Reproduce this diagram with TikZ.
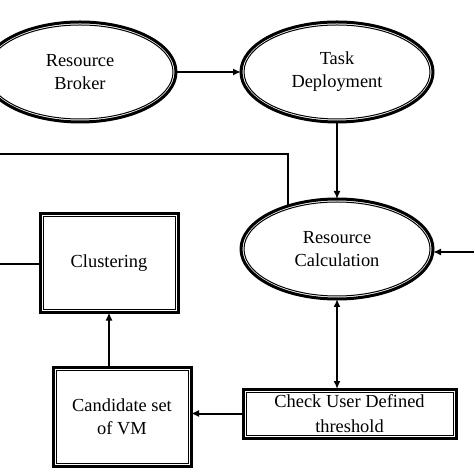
\documentclass[tikz,border=0pt]{standalone}
\usepackage{fontspec}
\setmainfont{Liberation Serif}
\usetikzlibrary{arrows.meta, positioning, shapes.geometric}

\begin{document}
\begin{tikzpicture}[
			x=0.5pt, y=-0.5pt,
			every node/.style={font=\fontsize{9.2}{11.5}\selectfont},
			oval/.style={ellipse, draw, line width=1.5pt, outer sep=0pt, align=center, minimum width=96pt, minimum height=50pt},
			box/.style={rectangle, draw, line width=1.5pt, outer sep=0pt, align=center, minimum width=69pt, minimum height=49.5pt},
			inner/.style={line width=0.5pt},
			arrow/.style={-{Latex[length=4pt,width=3.5pt]}, line width=1pt},
			link/.style={line width=1pt}
			]
			\useasboundingbox (0,0) rectangle (474,474);

			\node[oval] (broker) at (80,72) {Resource\\Broker};
			\node[oval, right=32.5pt of broker] (deploy) {Task\\Deployment};
			\node[oval, below=38.5pt of deploy] (calc) {Resource\\Calculation};
			\node[box, below=45pt of calc, xshift=6.25pt, minimum width=106.5pt, minimum height=24.5pt, inner ysep=1pt, font=\fontsize{9.2}{12.5}\selectfont] (check) {Check User Defined\\threshold};
			\node[box, left=26pt of check, yshift=-1.75pt] (cand) {Candidate set\\of VM};
			\node[box, above=27.5pt of cand, xshift=-6.5pt] (clu) {Clustering};

			% inner outlines
			\foreach \n in {broker,deploy,calc}
				\draw[inner] (\n.center) ellipse [x radius=46.5pt, y radius=23.5pt];
			\foreach \n in {clu,cand,check}
				\draw[inner] ([shift={(3,3)}]\n.north west) rectangle ([shift={(-3,-3)}]\n.south east);

			\coordinate (west1) at (0,154);
			\coordinate (west2) at (0,264);
			\coordinate (east1) at (474,252);

			\draw[arrow] (broker) -- (deploy);
			\draw[arrow] (deploy) -- (calc);
			\draw[arrow, {Latex[length=4pt,width=3.5pt]}-{Latex[length=4pt,width=3.5pt]}] (calc.south) -- (calc.south |- check.north);
			\draw[arrow] (check.west) -- (check.west -| cand.east);
			\draw[arrow] (cand.north -| clu.south) -- (clu.south);
			\draw[link] (west1) -| (calc.139);
			\draw[link] (west2) -- (west2 -| clu.west);
			\draw[arrow] (east1) -- (east1 -| calc.east);

		\end{tikzpicture}
\end{document}
